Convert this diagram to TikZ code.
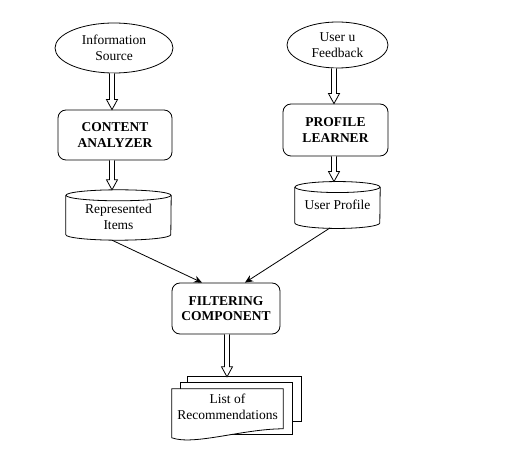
\documentclass[tikz,border=0pt]{standalone}
\usepackage{fontspec}
\setmainfont{Liberation Serif}
\usetikzlibrary{calc,shapes.geometric,arrows.meta}
\tikzset{
  lw/.style={line width=0.8pt},
  txt/.style={font=\fontsize{13.5}{16}\selectfont, align=center, inner sep=0pt},
  btxt/.style={font=\fontsize{13.5}{15.5}\selectfont\bfseries, align=center, inner sep=0pt},
  srcell/.style={ellipse, draw, lw, txt},
  procbox/.style={rectangle, rounded corners=8pt, draw, lw, btxt},
  cylbody/.style={rectangle, txt},
  hollowarrow/.style={draw, lw, fill=white, line join=miter},
  conn/.style={draw, lw, -{Stealth[length=8pt,width=7pt]}},
  sheet/.style={draw, lw, fill=white}
}
\newcommand{\harrow}[2]{%
  \draw[hollowarrow] let \p1=#1, \p2=#2 in
    (\x1-2.5pt,\y1) -- (\x1-2.5pt,\y2+10pt) -- (\x1-5.5pt,\y2+10pt) -- (\x1,\y2)
    -- (\x1+5.5pt,\y2+10pt) -- (\x1+2.5pt,\y2+10pt) -- (\x1+2.5pt,\y1);
}
\begin{document}
\begin{tikzpicture}[x=1pt,y=1pt]
\useasboundingbox (0,0) rectangle (512,464);
% sources
\node[srcell, minimum width=118, minimum height=50] (info) at (114,416) {Information\\Source};
\node[srcell, minimum width=101, minimum height=46] (fb) at (337.5,419) {User u\\Feedback};
% processing boxes
\node[procbox, minimum width=114, minimum height=50] (ca) at (115,329) {CONTENT\\ANALYZER};
\node[procbox, minimum width=105, minimum height=52] (pl) at (335.5,334) {PROFILE\\LEARNER};
\node[procbox, minimum width=108, minimum height=51] (fc) at (226,155.5) {FILTERING\\COMPONENT};
% cylinders
\node[cylbody, minimum width=105, minimum height=39] (rep) at (118.5,247) {Represented\\Items};
\node[cylbody, minimum width=85, minimum height=35.5] (up) at (337.5,259) {User Profile};
\draw[lw] ($(rep.north west)+(0,2)$) -- ($(rep.south west)+(0,2)$)
    arc[start angle=180, end angle=360, x radius=52.5, y radius=5.5]
    -- ($(rep.north east)+(0,2)$);
\draw[lw] ($(rep.north)+(0,2)$) ellipse[x radius=52.5, y radius=5.5];
\draw[lw] (up.north west) -- (up.south west)
    arc[start angle=180, end angle=360, x radius=42.5, y radius=5.5]
    -- (up.north east);
\draw[lw] (up.north) ellipse[x radius=42.5, y radius=5.5];
\coordinate (reptop) at ($(rep.north)+(0,7.5)$);
\coordinate (uptop) at ($(up.north)+(0,5.5)$);
% document stack
\node[txt, minimum width=111, minimum height=36] (list) at (227.5,57) {List of\\Recommendations};
\draw[sheet] ($(list.north west)+(16,12)$) rectangle ($(list.north east)+(18,-33)$);
\draw[sheet] ($(list.north west)+(9,6)$) rectangle ($(list.north east)+(9,-46)$);
\draw[sheet] (list.north west) -- ($(list.north west)+(0,-49)$)
   .. controls +(22,-8) and +(-40,0) .. ($(list.north east)+(0,-40)$) -- (list.north east) -- cycle;
\node[txt] at (list.center) {List of\\Recommendations};
\coordinate (stacktop) at ($(list.north)+(0,12)$);
% hollow arrows
\harrow{($(info.south)+(-2,0)$)}{(ca.north)}
\harrow{($(ca.south)+(-3,0)$)}{(reptop)}
\harrow{($(fb.south)+(-3.5,0)$)}{(pl.north)}
\harrow{($(pl.south)+(-1.5,0)$)}{(uptop)}
\harrow{($(fc.south)+(1,0)$)}{(stacktop)}
% connectors
\draw[conn] ($(rep.south)+(-6.5,-3.5)$) -- ($(fc.north)+(-24,0)$);
\draw[conn] ($(up.south)+(-7.5,-5)$) -- ($(fc.north)+(19,0)$);
\end{tikzpicture}
\end{document}
